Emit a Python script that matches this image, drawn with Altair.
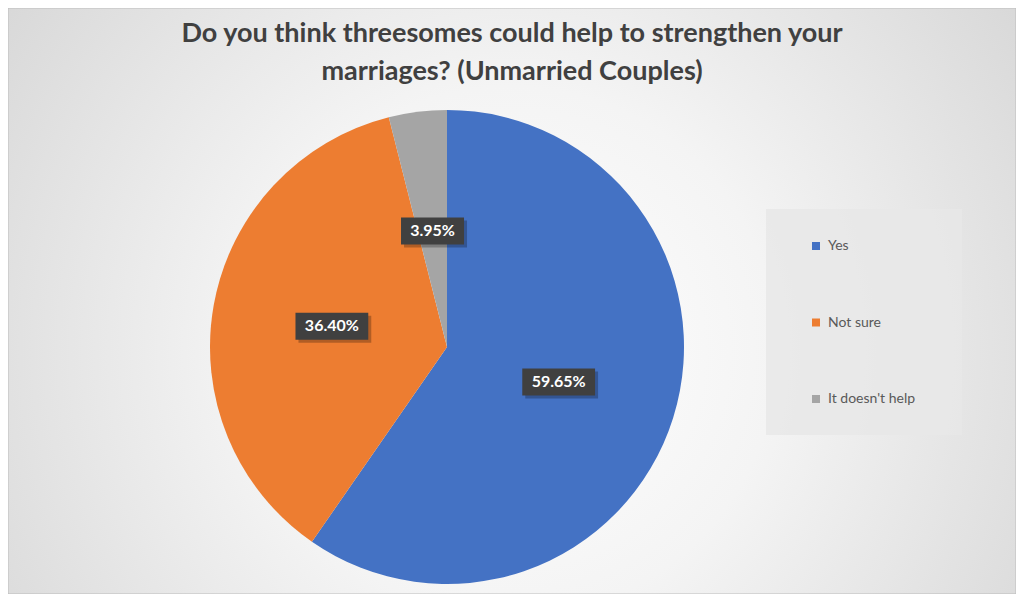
import altair as alt
import pandas as pd

categories = ["Yes", "Not sure", "It doesn't help"]
values = [59.65, 36.40, 3.95]
labels = ["59.65%", "36.40%", "3.95%"]
colors = ["#4472C4", "#ED7D31", "#A5A5A5"]

W, H = 1008, 586
CX, CY, R = 439, 339, 237
LR = 117  # label radius

df = pd.DataFrame({"category": categories, "value": values, "label": labels,
                   "order": list(range(len(categories)))})

FONT = "Lato"

bg = alt.Chart(pd.DataFrame({"a": [0]})).mark_rect(
    color=alt.Gradient(gradient="radial",
                       stops=[alt.GradientStop(color="#ffffff", offset=0),
                              alt.GradientStop(color="#f4f4f4", offset=0.35),
                              alt.GradientStop(color="#cdcdcd", offset=1)],
                       x1=0.5, y1=0.55, r1=0, x2=0.5, y2=0.55, r2=0.75),
    stroke="#bdbdbd", strokeWidth=1
).encode(x=alt.value(0), x2=alt.value(W), y=alt.value(0), y2=alt.value(H))

legend_box = alt.Chart(pd.DataFrame({"a": [0]})).mark_rect(
    color="#e8e8e8", opacity=0.85
).encode(x=alt.value(758), x2=alt.value(954), y=alt.value(201), y2=alt.value(427))

color_scale = alt.Scale(domain=categories, range=colors)

pie = alt.Chart(df).mark_arc(outerRadius=R).encode(
    theta=alt.Theta("value:Q", stack=True),
    order=alt.Order("order:Q"),
    color=alt.Color("category:N", scale=color_scale, sort=categories,
                    legend=alt.Legend(title=None, orient="none", legendX=801, legendY=231,
                                      symbolType="square", symbolSize=64,
                                      labelFontSize=14, labelColor="#595959",
                                      labelFont=FONT, rowPadding=62.5,
                                      symbolStrokeWidth=0, labelOffset=5)),
    x=alt.value(CX), y=alt.value(CY)
)

base = alt.Chart(df).transform_joinaggregate(
    total="sum(value)"
).transform_window(
    cum="sum(value)", sort=[alt.SortField("order")]
).transform_calculate(
    mid="(datum.cum - datum.value/2) / datum.total",
    px=f"{CX} + {LR} * sin(2 * PI * datum.mid)",
    py=f"{CY} - {LR} * cos(2 * PI * datum.mid)",
    hw="length(datum.label) * 4.9 + 7",
    x1="datum.px - datum.hw", x2="datum.px + datum.hw",
    y1="datum.py - 13.5", y2="datum.py + 13.5",
    sx1="datum.x1 + 3", sx2="datum.x2 + 3", sy1="datum.y1 + 3", sy2="datum.y2 + 3"
)

shadow = base.mark_rect(color="#000000", opacity=0.25).encode(
    x=alt.X("sx1:Q", scale=None), x2="sx2:Q",
    y=alt.Y("sy1:Q", scale=None), y2="sy2:Q"
)
boxes = base.mark_rect(color="#404040").encode(
    x=alt.X("x1:Q", scale=None), x2="x2:Q",
    y=alt.Y("y1:Q", scale=None), y2="y2:Q"
)
texts = base.mark_text(color="#ffffff", font=FONT, fontWeight="bold", fontSize=16,
                       align="center", baseline="middle").encode(
    x=alt.X("px:Q", scale=None), y=alt.Y("py:Q", scale=None), text="label:N"
)

chart = alt.layer(bg, legend_box, pie, shadow, boxes, texts).properties(
    width=W, height=H,
    title=alt.TitleParams(
        text=["Do you think threesomes could help to strengthen your",
              "marriages? (Unmarried Couples)"],
        font=FONT, fontSize=27, fontWeight="bold", color="#404040",
        anchor="middle", frame="group", baseline="top", dy=78, offset=0,
        lineHeight=38
    ),
    padding=0,
    autosize=alt.AutoSizeParams(type="none")
).configure_view(stroke=None)

chart.save("out.html", embed_options={"renderer": "svg", "actions": False})
